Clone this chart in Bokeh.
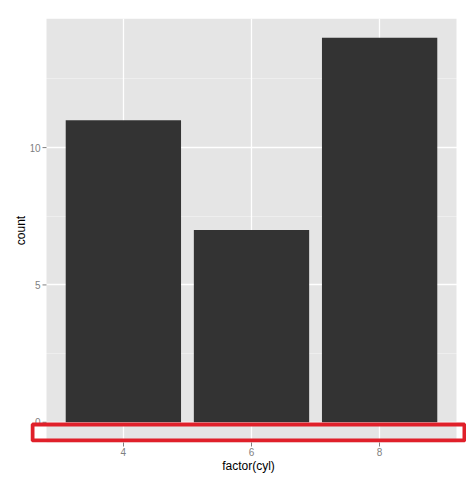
import numpy as np
from bokeh.plotting import figure
from bokeh.models import Range1d, FixedTicker, SingleIntervalTicker, BoxAnnotation, ColumnDataSource
from bokeh.core.properties import value
from bokeh.embed import file_html
from bokeh.resources import INLINE

# data
cyl = ["4", "6", "8"]
counts = [11, 7, 14]
y_ticks = [0, 5, 10]
y_tick_labels = ["0", "5", "10"]

FONT = "Liberation Sans"

# discrete positions of the factor levels (1..n, as in ggplot)
pos = list(range(1, len(cyl) + 1))
src = ColumnDataSource(dict(x=pos, count=counts))
tick_src = ColumnDataSource(dict(y=y_ticks, label=y_tick_labels))

# panel limits (ggplot expansion): discrete +/-0.6, continuous 5%
px_lo, px_hi = 0.4, len(cyl) + 0.6
py_lo, py_hi = -0.05 * max(counts), 1.05 * max(counts)

# the frame is a little wider than the grey panel so the highlight box fits in it
p = figure(
    x_range=Range1d(px_lo - 16 / 128.1, px_hi + 10 / 128.1),
    y_range=Range1d(py_lo - 1 / 27.47, py_hi),
    output_backend="svg", toolbar_location=None,
    min_border_left=30, min_border_right=0, min_border_top=18, min_border_bottom=33,
    frame_width=436, frame_height=424,
)
p.background_fill_color = "white"
p.border_fill_color = "white"
p.outline_line_color = None

# grey ggplot panel
panel = BoxAnnotation(left=px_lo, right=px_hi, fill_color="#E5E5E5", fill_alpha=1,
                      line_color=None, level="image")
p.add_layout(panel)

p.vbar(x="x", top="count", width=0.9, source=src, fill_color="#333333", line_color=None)

# grids
p.xgrid.grid_line_color = "white"
p.xgrid.grid_line_width = 1.3
p.ygrid.ticker = SingleIntervalTicker(interval=5, num_minor_ticks=2)
p.ygrid.grid_line_color = "white"
p.ygrid.grid_line_width = 1.3
p.ygrid.minor_grid_line_color = "white"
p.ygrid.minor_grid_line_alpha = 0.45
p.ygrid.minor_grid_line_width = 0.8

# x axis
p.xaxis.ticker = FixedTicker(ticks=pos)
p.xaxis.major_label_overrides = {i: c for i, c in zip(pos, cyl)}
p.xaxis.axis_line_color = None
p.xaxis.major_tick_line_color = "#7F7F7F"
p.xaxis.major_tick_out = 4
p.xaxis.major_tick_in = 0
p.xaxis.minor_tick_line_color = None
p.xaxis.major_label_text_font = FONT
p.xaxis.major_label_text_font_size = "10px"
p.xaxis.major_label_text_color = "#7F7F7F"
p.xaxis.major_label_standoff = 1
p.xaxis.axis_label = "factor(cyl)"
p.xaxis.axis_label_standoff = 0

# y axis: only the title lives in the axis; ticks and tick labels sit at the panel edge
p.yaxis.ticker = FixedTicker(ticks=[])
p.yaxis.axis_line_color = None
p.yaxis.major_tick_line_color = None
p.yaxis.minor_tick_line_color = None
p.yaxis.major_tick_out = 0
p.yaxis.major_tick_in = 0
p.yaxis.major_label_standoff = 0
p.yaxis.axis_label = "count"
p.yaxis.axis_label_standoff = 3

for ax in (p.xaxis[0], p.yaxis[0]):
    ax.axis_label_text_font = FONT
    ax.axis_label_text_font_size = "12px"
    ax.axis_label_text_font_style = "normal"
    ax.axis_label_text_color = "black"

p.ray(x=px_lo, y="y", length=4, length_units="screen", angle=np.pi,
      line_color="#7F7F7F", line_width=1, source=tick_src)
p.text(x=px_lo, y="y", text="label", x_offset=-6, text_align="right",
       text_baseline="middle", text_font=value(FONT), text_font_size=value("10px"),
       text_color="#7F7F7F", source=tick_src)

# red highlight box around the x-axis strip
box = BoxAnnotation(left=32, right=464, top=424, bottom=440,
                    left_units="canvas", right_units="canvas",
                    top_units="canvas", bottom_units="canvas",
                    fill_color=None, fill_alpha=0,
                    line_color="#E0202A", line_alpha=1, line_width=4)
p.add_layout(box)

open("out.html", "w").write(file_html(p, INLINE))
